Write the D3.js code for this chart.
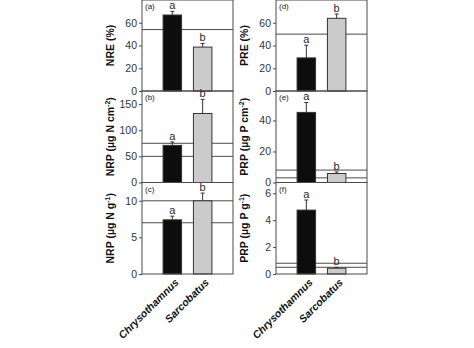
<!DOCTYPE html>
<html>
<head>
<meta charset="utf-8">
<script src="https://cdn.jsdelivr.net/npm/d3@7"></script>
<style>
  body { margin: 0; background: #fff; }
  text { font-family: "Liberation Sans", Arial, sans-serif; }
</style>
</head>
<body>
<svg width="474" height="348"></svg>
<script>
// species on the x axis
var species = ["Chrysothamnus", "Sarcobatus"];
var letters = ["a", "b"];

// nitrogen resorption
var nreMean = [66.8, 38.6], nreErr = [3.2, 3.2], nreRef = [54];
var nrpAreaMean = [71, 132], nrpAreaErr = [6.5, 27], nrpAreaRef = [50, 75];
var nrpMassMean = [7.4, 10.0], nrpMassErr = [0.5, 1.05], nrpMassRef = [7, 10];

// phosphorus resorption
var preMean = [29.1, 63.9], preErr = [11.2, 3.8], preRef = [50];
var prpAreaMean = [45.2, 5.8], prpAreaErr = [6.4, 1.0], prpAreaRef = [3, 8];
var prpMassMean = [4.75, 0.43], prpMassErr = [0.75, 0.06], prpMassRef = [0.5, 0.8];

// y ticks for each panel
var ticksA = [0, 20, 40, 60], ticksB = [0, 50, 100, 150], ticksC = [0, 5, 10];
var ticksD = [0, 20, 40, 60], ticksE = [0, 20, 40], ticksF = [0, 2, 4, 6];

var panels = [
  {tag: "(a)", col: 0, row: 0, max: 80,   mean: nreMean,     err: nreErr,     ref: nreRef,     ticks: ticksA, title: ["NRE (%)"]},
  {tag: "(b)", col: 0, row: 1, max: 175,  mean: nrpAreaMean, err: nrpAreaErr, ref: nrpAreaRef, ticks: ticksB, title: ["NRP (µg N cm", "-2", ")"]},
  {tag: "(c)", col: 0, row: 2, max: 12.5, mean: nrpMassMean, err: nrpMassErr, ref: nrpMassRef, ticks: ticksC, title: ["NRP (µg N g", "-1", ")"]},
  {tag: "(d)", col: 1, row: 0, max: 80,   mean: preMean,     err: preErr,     ref: preRef,     ticks: ticksD, title: ["PRE (%)"]},
  {tag: "(e)", col: 1, row: 1, max: 59,   mean: prpAreaMean, err: prpAreaErr, ref: prpAreaRef, ticks: ticksE, title: ["PRP (µg P cm", "-2", ")"]},
  {tag: "(f)", col: 1, row: 2, max: 6.8,  mean: prpMassMean, err: prpMassErr, ref: prpMassRef, ticks: ticksF, title: ["PRP (µg P g", "-1", ")"]}
];

var svg = d3.select("svg");
var colX = [142, 276], pw = 91;
var rowY = [0, 91, 182.5], ph = [91, 91.5, 91.5];
var frame = "#4a4a4a";

panels.forEach(function(p) {
  var x0 = colX[p.col], y0 = rowY[p.row], h = ph[p.row];
  var x = d3.scalePoint().domain(species).range([x0, x0 + pw]).padding(1);
  var y = d3.scaleLinear().domain([0, p.max]).range([y0 + h, y0]);
  var bw = 18.5;
  var g = svg.append("g");

  // y axis
  var ax = g.append("g")
    .attr("transform", "translate(" + x0 + ",0)")
    .call(d3.axisLeft(y).tickValues(p.ticks).tickFormat(d3.format("d"))
      .tickSize(3).tickPadding(2).tickSizeOuter(0));
  ax.select(".domain").remove();
  ax.selectAll("line").attr("stroke", frame);
  ax.selectAll("text").attr("font-size", 10.5).attr("fill", "#333")
    .attr("font-family", "Liberation Sans, Arial, sans-serif");

  // reference lines
  g.selectAll(".ref").data(p.ref).enter().append("line")
    .attr("x1", x0).attr("x2", x0 + pw)
    .attr("y1", function(d) { return y(d); }).attr("y2", function(d) { return y(d); })
    .attr("stroke", frame).attr("stroke-width", 1);

  var data = species.map(function(s, i) { return {s: s, m: p.mean[i], e: p.err[i], l: letters[i], i: i}; });

  // error bars
  g.selectAll(".err").data(data).enter().append("line")
    .attr("x1", function(d) { return x(d.s); }).attr("x2", function(d) { return x(d.s); })
    .attr("y1", function(d) { return y(d.m); }).attr("y2", function(d) { return y(d.m + d.e); })
    .attr("stroke", "#333").attr("stroke-width", 1);
  g.selectAll(".cap").data(data).enter().append("line")
    .attr("x1", function(d) { return x(d.s) - 2; }).attr("x2", function(d) { return x(d.s) + 2; })
    .attr("y1", function(d) { return y(d.m + d.e); }).attr("y2", function(d) { return y(d.m + d.e); })
    .attr("stroke", "#333").attr("stroke-width", 1);

  // bars
  g.selectAll(".bar").data(data).enter().append("rect")
    .attr("x", function(d) { return x(d.s) - bw / 2; })
    .attr("y", function(d) { return y(d.m); })
    .attr("width", bw)
    .attr("height", function(d) { return y(0) - y(d.m); })
    .attr("fill", function(d) { return d.i === 0 ? "#0d0d0d" : "#cbcbcb"; })
    .attr("stroke", "#333").attr("stroke-width", 1);

  // significance letters
  g.selectAll(".lt").data(data).enter().append("text")
    .attr("x", function(d) { return x(d.s); })
    .attr("y", function(d) { return y(d.m + d.e) - 2; })
    .attr("text-anchor", "middle").attr("font-size", 11).attr("fill", "#2a2a2a")
    .text(function(d) { return d.l; });

  // frame
  g.append("rect").attr("x", x0).attr("y", y0).attr("width", pw).attr("height", h)
    .attr("fill", "none").attr("stroke", frame).attr("stroke-width", 1);

  // panel tag
  g.append("text").attr("x", x0 + 3).attr("y", y0 + 9)
    .attr("font-family", "Liberation Serif, serif").attr("font-size", 8).attr("fill", "#222")
    .text(p.tag);

  // y title
  var tx = x0 - 28, ty = y0 + h / 2;
  var t = g.append("text")
    .attr("transform", "translate(" + tx + "," + ty + ") rotate(-90)")
    .attr("text-anchor", "middle").attr("font-size", 10.5).attr("font-weight", "bold").attr("fill", "#111");
  t.append("tspan").text(p.title[0]);
  if (p.title.length > 1) {
    t.append("tspan").attr("font-size", 7).attr("dy", -4).text(p.title[1]);
    t.append("tspan").attr("dy", 4).text(p.title[2]);
  }

  // species labels under the bottom row
  if (p.row === 2) {
    g.selectAll(".sp").data(species).enter().append("text")
      .attr("transform", function(s) { return "translate(" + (x(s) + 7) + "," + (y0 + h + 9) + ") rotate(-45)"; })
      .attr("text-anchor", "end").attr("font-size", 10.5)
      .attr("font-weight", "bold").attr("font-style", "italic").attr("fill", "#111")
      .text(function(s) { return s; });
  }
});
</script>
</body>
</html>
